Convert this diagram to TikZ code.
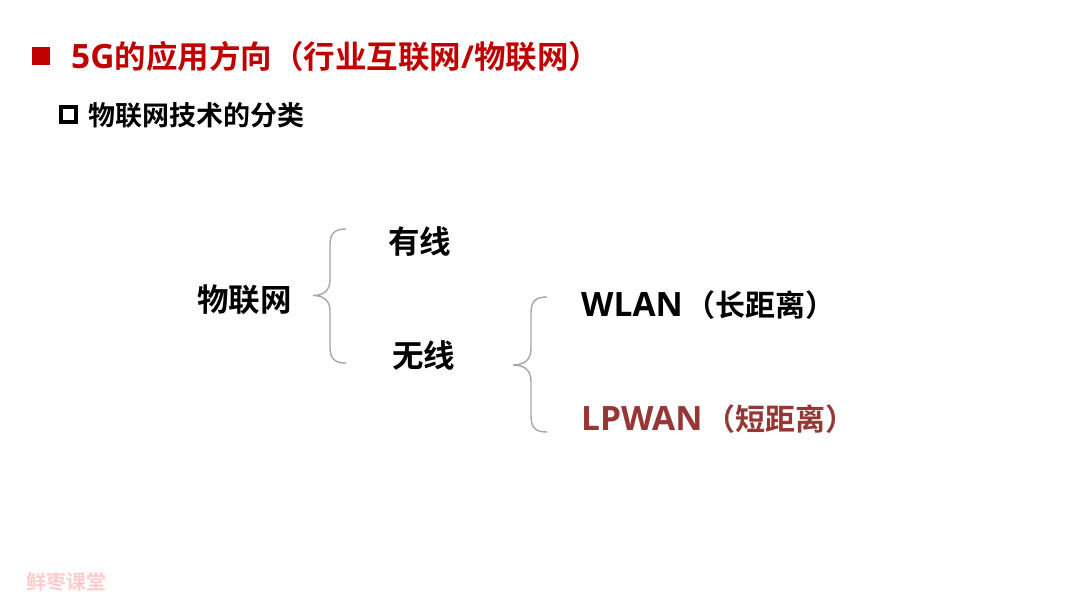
\documentclass[tikz,border=0pt]{standalone}
\usepackage{fontspec}
\setmainfont{Noto Sans CJK SC}[BoldFont={Noto Sans CJK SC Bold}]
\newfontfamily\latinf{Open Sans}[BoldFont={Open Sans Bold}]
\newcommand{\biglat}[1]{{\latinf\fontsize{33.5}{36}\selectfont #1}}
\definecolor{hred}{HTML}{C00000}
\definecolor{lpred}{HTML}{953735}
\definecolor{brgray}{HTML}{A6A6A6}
\definecolor{wm}{HTML}{FFCCCC}
\tikzset{
 lbl/.style={inner sep=0pt,anchor=west,font=\bfseries\fontsize{31.5}{34}\selectfont},
 big/.style={font=\bfseries\fontsize{30}{36}\selectfont},
 brc/.style={draw=brgray,line width=1.4pt}
}
\begin{document}
\begin{tikzpicture}[x=1pt,y=-1pt]
\useasboundingbox (0,0) rectangle (1080,608);
\node[fill=hred,minimum size=18pt,inner sep=0pt] (bul1) at (41,55.5) {};
\node[lbl,text=hred] (t1) at (71,56) {\biglat{5G}的应用方向（行业互联网{\latinf /}物联网）};
\node[draw=black,line width=3.6pt,minimum size=15pt,inner sep=0pt] (bul2) at (68.5,114.5) {};
\node[lbl,font=\bfseries\fontsize{27}{30}\selectfont] (t2) at (88,115) {物联网技术的分类};
\node[lbl] (a) at (197,300) {物联网};
\node[lbl] (b) at (388,241) {有线};
\node[lbl] (c) at (392,355) {无线};
\node[lbl,big] (d) at (581,305) {\biglat{WLAN}\hspace{3pt}（长距离）};
\node[lbl,big,text=lpred] (e) at (581,419) {\biglat{LPWAN}\hspace{3pt}（短距离）};
\coordinate (p1) at (346,229);
\coordinate (p2) at (346,363);
\coordinate (p3) at (313,295.5);
\coordinate (q1) at (547,297);
\coordinate (q2) at (547,432);
\coordinate (q3) at (513,365);
\draw[brc] (p1) .. controls (335,229) and (330,233) .. (330,245) -- (330,280) .. controls (330,290) and (324,295.5) .. (p3) .. controls (324,295.5) and (330,301) .. (330,311) -- (330,347) .. controls (330,359) and (335,363) .. (p2);
\draw[brc] (q1) .. controls (536,297) and (531,301) .. (531,313) -- (531,349) .. controls (531,359) and (525,365) .. (q3) .. controls (525,365) and (531,371) .. (531,381) -- (531,416) .. controls (531,428) and (536,432) .. (q2);
\node[inner sep=0pt,anchor=west,text=wm,font=\bfseries\fontsize{20}{22}\selectfont] (w) at (26,582) {鲜枣课堂};
\end{tikzpicture}
\end{document}
